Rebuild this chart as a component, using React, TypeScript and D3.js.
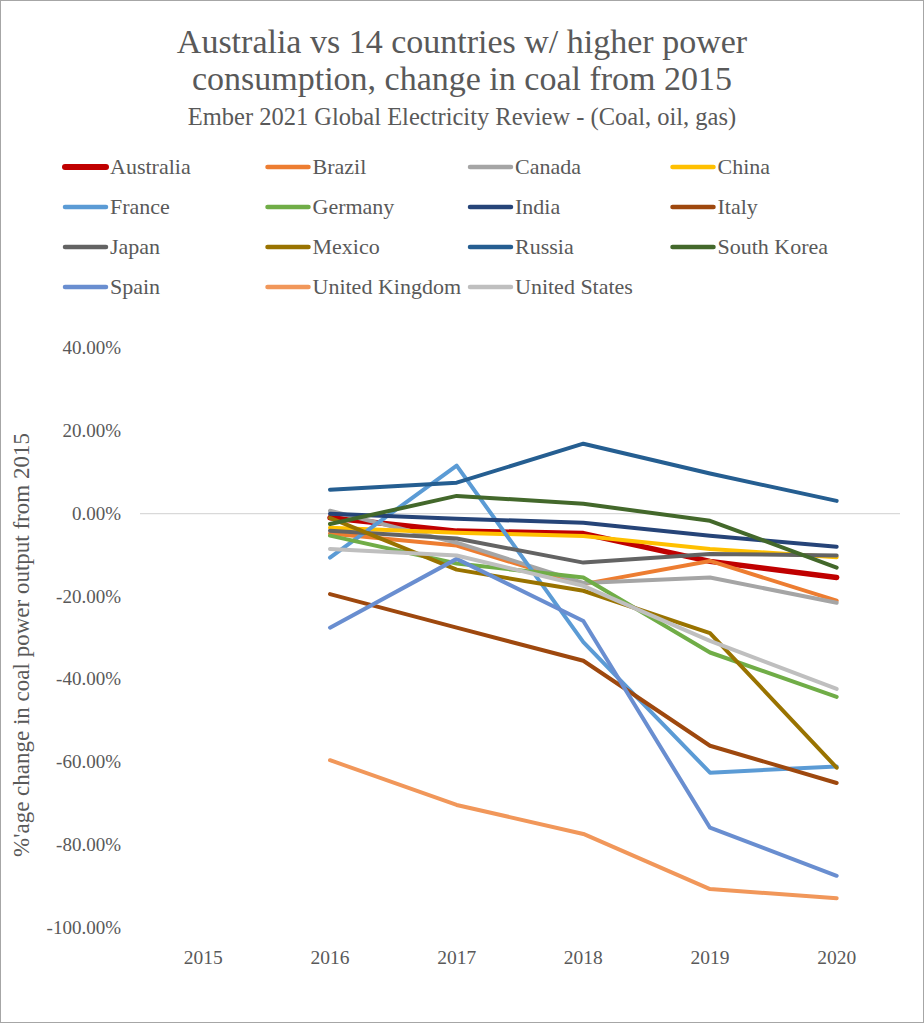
import React, { useEffect, useRef } from "react";
import * as d3 from "d3";

const years = ["2015", "2016", "2017", "2018", "2019", "2020"];
const yTicks = [40, 20, 0, -20, -40, -60, -80, -100];

const australia = [null, -1.0, -4.2, -4.8, -11.5, -15.4];
const brazil = [null, -4.8, -7.7, -17.0, -11.4, -21.0];
const canada = [null, 0.7, -7.0, -16.7, -15.4, -21.5];
const china = [null, -3.4, -4.6, -5.4, -8.5, -10.5];
const france = [null, -10.6, 11.6, -31.0, -62.5, -61.0];
const germany = [null, -5.3, -12.0, -15.4, -33.5, -44.2];
const india = [null, 0.0, -1.2, -2.2, -5.3, -8.0];
const italy = [null, -19.4, -27.5, -35.5, -56.0, -65.0];
const japan = [null, -4.1, -6.0, -11.8, -9.7, -10.1];
const mexico = [null, -1.0, -13.5, -18.6, -28.8, -61.3];
const russia = [null, 5.8, 7.5, 16.9, 9.7, 3.1];
const southKorea = [null, -2.5, 4.3, 2.4, -1.7, -13.0];
const spain = [null, -27.5, -10.9, -25.9, -75.8, -87.4];
const unitedKingdom = [null, -59.5, -70.3, -77.3, -90.6, -92.8];
const unitedStates = [null, -8.5, -10.1, -17.4, -30.7, -42.3];

const seriesNames = [
  "Australia", "Brazil", "Canada", "China", "France", "Germany", "India", "Italy",
  "Japan", "Mexico", "Russia", "South Korea", "Spain", "United Kingdom", "United States",
];
const seriesValues = [
  australia, brazil, canada, china, france, germany, india, italy,
  japan, mexico, russia, southKorea, spain, unitedKingdom, unitedStates,
];
const seriesColors = [
  "#C00000", "#ED7D31", "#A5A5A5", "#FFC000", "#5B9BD5", "#70AD47", "#264478", "#9E480E",
  "#636363", "#997300", "#255E91", "#43682B", "#698ED0", "#F1975A", "#BFBFBF",
];

const FONT = "'Palatino Linotype', 'Book Antiqua', Palatino, 'Liberation Serif', serif";
const TEXT = "#595959";

export default function App() {
  const ref = useRef<SVGSVGElement>(null);

  useEffect(() => {
    const svg = d3.select(ref.current);
    svg.selectAll("*").remove();
    const W = 924, H = 1024;

    svg.append("rect").attr("x", 0.5).attr("y", 0.5).attr("width", W - 1).attr("height", H - 2)
      .attr("fill", "#fff").attr("stroke", "#A6A6A6");

    // Titles
    const t = svg.append("g").attr("font-family", FONT).attr("fill", TEXT).attr("text-anchor", "middle");
    t.append("text").attr("x", 462).attr("y", 53).attr("font-size", 34).text("Australia vs 14 countries w/ higher power");
    t.append("text").attr("x", 462).attr("y", 90).attr("font-size", 34).text("consumption, change in coal from 2015");
    t.append("text").attr("x", 462).attr("y", 125).attr("font-size", 24.5).text("Ember 2021 Global Electricity Review - (Coal, oil, gas)");

    // Legend
    const lg = svg.append("g").attr("font-family", FONT).attr("font-size", 22).attr("fill", TEXT);
    seriesNames.forEach((name, i) => {
      const col = i % 4, row = Math.floor(i / 4);
      const x0 = 62 + col * 202.5;
      const yc = 167 + row * 40;
      lg.append("line").attr("x1", x0 + 3).attr("x2", x0 + 44).attr("y1", yc).attr("y2", yc)
        .attr("stroke", seriesColors[i]).attr("stroke-width", i === 0 ? 6 : 4.5).attr("stroke-linecap", "round");
      lg.append("text").attr("x", x0 + 48).attr("y", yc + 7).text(name);
    });

    const x = d3.scaleBand<string>().domain(years).range([140, 900]);
    const y = d3.scaleLinear().domain([-100, 40]).range([928, 348]);
    const cx = (d: string) => (x(d) as number) + x.bandwidth() / 2;

    // Y tick labels
    const ya = svg.append("g").attr("font-family", FONT).attr("font-size", 19).attr("fill", TEXT).attr("text-anchor", "end");
    yTicks.forEach((v) => {
      ya.append("text").attr("x", 121).attr("y", y(v) + 6).text(d3.format(".2f")(v).replace("\u2212", "-") + "%");
    });

    // Zero axis line
    svg.append("line").attr("x1", 140).attr("x2", 900).attr("y1", y(0)).attr("y2", y(0))
      .attr("stroke", "#D9D9D9").attr("stroke-width", 1.2);

    // X labels
    const xa = svg.append("g").attr("font-family", FONT).attr("font-size", 19.5).attr("fill", TEXT).attr("text-anchor", "middle");
    years.forEach((yr) => {
      xa.append("text").attr("x", cx(yr)).attr("y", 964).text(yr);
    });

    // Y axis title
    svg.append("text").attr("transform", `translate(29,645) rotate(-90)`).attr("text-anchor", "middle")
      .attr("font-family", FONT).attr("font-size", 23).attr("fill", TEXT)
      .text("%'age change in coal power output from 2015");

    // Lines
    const line = d3.line<number | null>()
      .defined((d) => d !== null)
      .x((_, i) => cx(years[i]))
      .y((d) => y(d as number));
    const lines = svg.append("g");
    seriesValues.forEach((vals, i) => {
      lines.append("path").attr("d", line(vals) as string).attr("fill", "none")
        .attr("stroke", seriesColors[i]).attr("stroke-width", i === 0 ? 5.5 : 4)
        .attr("stroke-linecap", "round").attr("stroke-linejoin", "round");
    });
  }, []);

  return (
    <svg ref={ref} width={924} height={1024}
      style={{ position: "absolute", left: 0, top: 0, display: "block", background: "#fff" }} />
  );
}
